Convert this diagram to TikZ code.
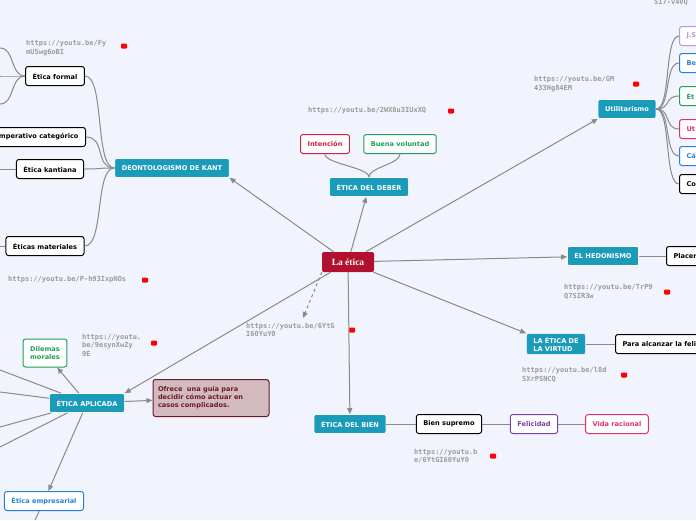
\documentclass[tikz,border=0pt]{standalone}
\usepackage{fontspec}
\setmainfont{DejaVu Sans}
\newfontfamily\serifb{Liberation Serif}
\newfontfamily\urlf{DejaVu Sans Mono}
\usetikzlibrary{arrows.meta}
\definecolor{bg}{HTML}{F2F4FD}
\definecolor{teal}{HTML}{1A9BBA}
\definecolor{root}{HTML}{B2102F}
\definecolor{lnk}{HTML}{8A8A8A}
\definecolor{gr}{HTML}{1FA055}
\definecolor{rd}{HTML}{D0213F}
\definecolor{pk}{HTML}{E0306A}
\definecolor{bl}{HTML}{2A7FD8}
\definecolor{pu}{HTML}{7B3FA8}
\definecolor{lav}{HTML}{B79AD6}
\definecolor{wine}{HTML}{6B1A2A}
\definecolor{url}{HTML}{9A9A9A}
\tikzset{
 every node/.style={font=\fontsize{6.6}{8}\selectfont\bfseries},
 main/.style={fill=teal,text=white,rounded corners=2pt,minimum height=19pt,inner xsep=7pt,align=left,draw=white,line width=0.6pt},
 sub/.style={fill=white,draw=#1,text=#1,rounded corners=2.5pt,line width=1pt,minimum height=19pt,inner xsep=7pt,align=left},
 sub/.default=black,
 urlt/.style={text=url,align=left,anchor=west,inner sep=0pt,font=\urlf\fontsize{7}{8.5}\selectfont\bfseries},
 yt/.style={fill=red,rounded corners=1pt,minimum width=6pt,minimum height=5pt,inner sep=0pt},
 arr/.style={draw=lnk,line width=1pt,-{Triangle[length=6pt,width=5pt]}},
 ln/.style={draw=lnk,line width=1pt},
}
\begin{document}
\begin{tikzpicture}[x=1pt,y=-1pt]
\fill[bg] (0,0) rectangle (696,520);
\useasboundingbox (0,0) rectangle (696,520);
% root
\node[fill=root,text=white,rounded corners=2pt,minimum width=52pt,minimum height=20pt,font=\serifb\bfseries\fontsize{9.5}{10}\selectfont] (R) at (348,262) {La ética};
% deber
\node[main] (D) at (369,187) {ÉTICA DEL DEBER};
\node[sub=rd] (D1) at (325,144) {Intención};
\node[sub=gr] (D2) at (400,144) {Buena voluntad};
\node[urlt] (u1) at (308,111) {https://youtu.be/2WX8u3IUxXQ};
\node[yt] (y1) at (451,111) {};
% kant
\node[main] (K) at (172,168) {DEONTOLOGISMO DE KANT};
\node[sub] (K1) at (55,76) {Ética formal};
\node[sub,anchor=east] (K2) at (86,137) {Imperativo categórico};
\node[sub] (K3) at (50,169) {Ética kantiana};
\node[sub] (K4) at (45,246) {Éticas materiales};
\coordinate (k1a) at (0,48); \coordinate (k1b) at (0,76); \coordinate (k1c) at (0,104);
\coordinate (k3a) at (0,169); \coordinate (k4a) at (0,246);
\node[urlt] (u2) at (26,48) {https://youtu.be/Fy\\mU5wg6oBI};
\node[yt] (y2) at (124,46) {};
\node[urlt] (u3) at (8,280) {https://youtu.be/P-h93IxpNOs};
\node[yt] (y3) at (145,280) {};
% utilitarismo
\node[main] (U) at (627,109) {Utilitarismo};
\node[sub=lav,anchor=west] (U1) at (679,36) {J.S};
\node[sub=bl,anchor=west] (U2) at (679,63) {Be};
\node[sub=gr,anchor=west] (U3) at (679,96) {Ét};
\node[sub=pk,anchor=west] (U4) at (679,129) {Ut};
\node[sub=bl,anchor=west] (U5) at (679,156) {Cá};
\node[sub,anchor=west] (U6) at (679,184) {Co};
\node[urlt] (u4) at (534,84) {https://youtu.be/GM\\433Hg84EM};
\node[yt] (y4) at (636,84) {};
\node[urlt] (u5) at (654,2) {5I7-v4VQ};
% hedonismo
\node[main] (H) at (603,256) {EL HEDONISMO};
\node[sub,anchor=west] (H1) at (666,256) {Placer};
\node[urlt] (u6) at (564,292) {https://youtu.be/TrP9\\Q7SIR3w};
\node[yt] (y6) at (667,292) {};
% virtud
\node[main] (V) at (556,344) {LA ÉTICA DE\\LA VIRTUD};
\node[sub,anchor=west] (V1) at (615,344) {Para alcanzar la felicidad};
\node[urlt] (u7) at (522,375) {https://youtu.be/l8d\\SXrPSNCQ};
\node[yt] (y7) at (624,375) {};
% bien
\node[main] (B) at (350,424) {ÉTICA DEL BIEN};
\node[sub] (B1) at (449,424) {Bien supremo};
\node[sub=pu] (B2) at (534,424) {Felicidad};
\node[sub=pk] (B3) at (617,424) {Vida racional};
\node[urlt] (u8) at (414,456) {https://youtu.b\\e/6YtGI60YuY0};
\node[yt] (y8) at (493,456) {};
\node[urlt] (u9) at (246,330) {https://youtu.be/6YtG\\I60YuY0};
\node[yt] (y9) at (352,330) {};
\coordinate (dt) at (303,318);
% aplicada
\node[main] (A) at (87,403) {ÉTICA APLICADA};
\node[sub=gr,minimum height=28pt] (A1) at (45,353) {Dilemas\\morales};
\node[fill=wine!30!white,draw=wine,text=wine,rounded corners=2.5pt,line width=1pt,text width=106pt,minimum height=37pt,align=left,inner xsep=5pt] (A2) at (211,398) {Ofrece\ \ una guía para\\decidir cómo actuar en\\casos complicados.};
\node[sub=bl] (A3) at (44,501) {Ética empresarial};
\node[urlt] (u10) at (82,345) {https://youtu.\\be/9esynXwZy\\9E};
\node[yt] (y10) at (154,343) {};
\coordinate (a1) at (0,370); \coordinate (a2) at (0,392); \coordinate (a3) at (0,427); \coordinate (a4) at (0,447); \coordinate (a5) at (35,520);
% connectors
\draw[arr] (R) -- (D);
\draw[arr] (R) -- (K.south east);
\draw[arr] (R) -- (U.south west);
\draw[arr] (R) -- (H);
\draw[arr] (R) -- (V.north west);
\draw[arr] (R) -- (B);
\draw[arr] (R) -- (A.north east);
\draw[arr,dashed] (R.south west) -- (dt);
\draw[ln] (D.north) .. controls +(0,-10) and +(0,10) .. (D1.south);
\draw[ln] (D.north) .. controls +(0,-10) and +(0,10) .. (D2.south);
\foreach \t in {K1,K2,K3,K4} \draw[ln] (K.west) .. controls +(-20,0) and +(20,0) .. (\t.east);
\foreach \t in {k1a,k1b,k1c} \draw[ln] (K1.west) .. controls +(-15,0) and +(15,0) .. (\t);
\draw[ln] (K3) -- (k3a); \draw[ln] (K4) -- (k4a);
\foreach \t in {U1,U2,U3,U4,U5,U6} \draw[ln] (U.east) .. controls +(15,0) and +(-15,0) .. (\t.west);
\draw[ln] (H) -- (H1); \draw[ln] (V) -- (V1);
\draw[ln] (B) -- (B1); \draw[ln] (B1) -- (B2); \draw[ln] (B2) -- (B3);
\draw[arr] (A) -- (A1);
\draw[arr] (A) -- (A2);
\draw[arr] (A) -- (A3);
\foreach \t in {a1,a2,a3,a4} \draw[ln] (A) -- (\t);
\draw[ln] (A3) -- (a5);
\end{tikzpicture}
\end{document}
